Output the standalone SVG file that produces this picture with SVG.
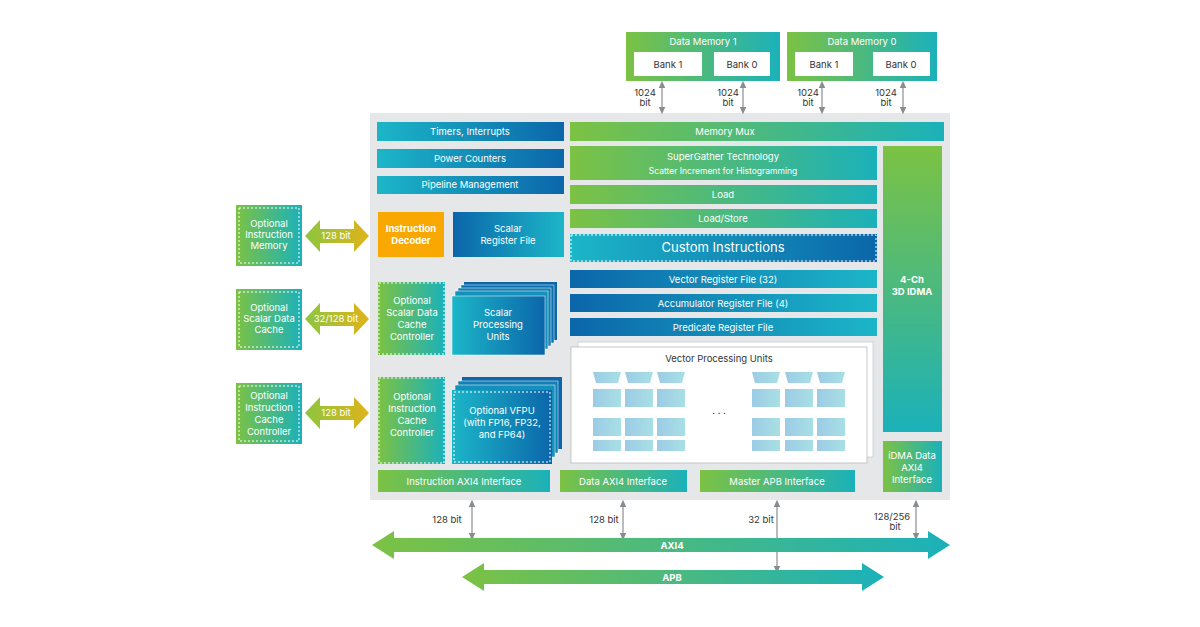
<svg xmlns="http://www.w3.org/2000/svg" width="1200" height="627" viewBox="0 0 1200 627">
<defs>
<linearGradient id="gt" x1="0" y1="0" x2="1" y2="0"><stop offset="0" stop-color="#7cc243"/><stop offset="1" stop-color="#1bb1ba"/></linearGradient>
<linearGradient id="gtv" x1="0" y1="0" x2="0" y2="1"><stop offset="0" stop-color="#7cc243"/><stop offset="1" stop-color="#1bb1ba"/></linearGradient>
<linearGradient id="bl" x1="0" y1="0" x2="1" y2="0"><stop offset="0" stop-color="#1cb6c8"/><stop offset="1" stop-color="#0b66aa"/></linearGradient>
<linearGradient id="bl2" x1="0" y1="0" x2="1" y2="0"><stop offset="0" stop-color="#0b66aa"/><stop offset="1" stop-color="#1cb6c8"/></linearGradient>
<linearGradient id="cell" x1="0" y1="0" x2="1" y2="0"><stop offset="0" stop-color="#9ccbe6"/><stop offset="1" stop-color="#a8e0e4"/></linearGradient>
<linearGradient id="yg" x1="0" y1="0" x2="1" y2="0"><stop offset="0" stop-color="#8cc63f"/><stop offset="1" stop-color="#e0b31a"/></linearGradient>
<marker id="ah" viewBox="0 0 10 10" refX="5" refY="5" markerWidth="7" markerHeight="7" orient="auto-start-reverse"><path d="M0,1 L9,5 L0,9 z" fill="#8a8d90"/></marker>
</defs>
<style>
text{font-family:Inter,"Noto Sans",sans-serif;fill:#fff;font-size:9.5px;text-anchor:middle}
.dk{fill:#333}
.b{font-weight:700}
.big{font-size:13px}
.sm{font-size:8.5px}
.dash{fill:none;stroke:#fff;stroke-width:1;stroke-dasharray:2 2}
.ln{stroke:#8a8d90;stroke-width:1.2;marker-start:url(#ah);marker-end:url(#ah)}
.cell{fill:url(#cell)}
</style>
<rect width="1200" height="627" fill="#fff"/>
<rect x="370" y="113" width="580" height="387" fill="#e6e7e8"/>

<g id="dm1"><rect x="626" y="32" width="154" height="49" fill="url(#gt)"/><text x="703" y="45">Data Memory 1</text>
<rect x="634" y="52" width="68" height="24" fill="#fff"/><text class="dk" x="668" y="68">Bank 1</text>
<rect x="714" y="52" width="56" height="24" fill="#fff"/><text class="dk" x="742" y="68">Bank 0</text></g>
<g id="dm0"><rect x="787" y="32" width="150" height="49" fill="url(#gt)"/><text x="862" y="45">Data Memory 0</text>
<rect x="795" y="52" width="58" height="24" fill="#fff"/><text class="dk" x="824" y="68">Bank 1</text>
<rect x="873" y="52" width="57" height="24" fill="#fff"/><text class="dk" x="901" y="68">Bank 0</text></g>

<g id="connectors">
<line class="ln" x1="662" y1="84" x2="662" y2="111"/><line class="ln" x1="743" y1="84" x2="743" y2="111"/>
<line class="ln" x1="822" y1="84" x2="822" y2="111"/><line class="ln" x1="903" y1="84" x2="903" y2="111"/>
<line class="ln" x1="472" y1="503" x2="472" y2="537"/><line class="ln" x1="623" y1="503" x2="623" y2="537"/>
<line class="ln" x1="777" y1="503" x2="777" y2="570"/><line class="ln" x1="916" y1="503" x2="916" y2="537"/>
<path d="M305,236 L320,220 L320,229 L354,229 L354,220 L369,236 L354,252 L354,243 L320,243 L320,252 Z" fill="url(#yg)"/>
<path d="M305,319 L320,303 L320,312 L354,312 L354,303 L369,319 L354,335 L354,326 L320,326 L320,335 Z" fill="url(#yg)"/>
<path d="M305,413 L320,397 L320,406 L354,406 L354,397 L369,413 L354,429 L354,420 L320,420 L320,429 Z" fill="url(#yg)"/>
<path d="M372,545 L394,531 L394,538 L928,538 L928,531 L950,545 L928,559 L928,552 L394,552 L394,559 Z" fill="url(#gt)"/>
<path d="M462,577 L484,563 L484,570 L862,570 L862,563 L884,577 L862,591 L862,584 L484,584 L484,591 Z" fill="url(#gt)"/>
</g>
<g>
<text class="dk" x="645" y="96">1024</text><text class="dk" x="645" y="106">bit</text>
<text class="dk" x="728" y="96">1024</text><text class="dk" x="728" y="106">bit</text>
<text class="dk" x="808" y="96">1024</text><text class="dk" x="808" y="106">bit</text>
<text class="dk" x="886" y="96">1024</text><text class="dk" x="886" y="106">bit</text>
<text class="dk" x="447" y="523">128 bit</text><text class="dk" x="604" y="523">128 bit</text>
<text class="dk" x="761" y="523">32 bit</text><text class="dk" x="892" y="520">128/256</text><text class="dk" x="895" y="530">bit</text>
</g>
<text class="b" x="672" y="549">AXI4</text><text class="b" x="672" y="581">APB</text>
<text x="336" y="239">128 bit</text><text x="336" y="322">32/128 bit</text><text x="336" y="416">128 bit</text>

<g id="ext1"><rect x="236" y="205" width="66" height="61" fill="url(#gt)"/><rect class="dash" x="239" y="208" width="60" height="55"/><text x="269" y="227">Optional</text><text x="269" y="238">Instruction</text><text x="269" y="249">Memory</text></g>
<g id="ext2"><rect x="236" y="289" width="66" height="61" fill="url(#gt)"/><rect class="dash" x="239" y="292" width="60" height="55"/><text x="269" y="311">Optional</text><text x="269" y="322">Scalar Data</text><text x="269" y="333">Cache</text></g>
<g id="ext3"><rect x="236" y="383" width="66" height="61" fill="url(#gt)"/><rect class="dash" x="239" y="386" width="60" height="55"/><text x="269" y="399">Optional</text><text x="269" y="411">Instruction</text><text x="269" y="423">Cache</text><text x="269" y="435">Controller</text></g>

<g id="timers"><rect x="377" y="122" width="187" height="19" fill="url(#bl)"/><text x="470" y="135">Timers, Interrupts</text></g>
<g id="power"><rect x="377" y="149" width="187" height="19" fill="url(#bl)"/><text x="470" y="162">Power Counters</text></g>
<g id="pipe"><rect x="377" y="176" width="187" height="18" fill="url(#bl)"/><text x="470" y="188">Pipeline Management</text></g>
<g id="decoder"><rect x="378" y="212" width="66" height="45" fill="#f8a800"/><text class="b" x="411" y="232">Instruction</text><text class="b" x="411" y="244">Decoder</text></g>
<g id="srf"><rect x="453" y="212" width="111" height="45" fill="url(#bl2)"/><text x="508" y="232">Scalar</text><text x="508" y="244">Register File</text></g>
<g id="sdcc"><rect x="378" y="282" width="67" height="73" fill="url(#gt)"/><rect class="dash" x="379" y="283" width="65" height="71"/><text x="412" y="304">Optional</text><text x="412" y="316">Scalar Data</text><text x="412" y="328">Cache</text><text x="412" y="340">Controller</text></g>
<g id="spu"><rect x="464" y="282" width="93" height="58" fill="#0b66aa"/><rect x="461" y="285" width="93" height="58" fill="#0d6fae" stroke="#fff" stroke-width=".5"/><rect x="458" y="288" width="93" height="58" fill="#1080b5" stroke="#fff" stroke-width=".5"/><rect x="455" y="291" width="93" height="58" fill="#1390bb" stroke="#fff" stroke-width=".5"/><rect x="452" y="296" width="93" height="59" fill="url(#bl)" stroke="#fff" stroke-width=".5"/><text x="498" y="316">Scalar</text><text x="498" y="328">Processing</text><text x="498" y="340">Units</text></g>
<g id="icc"><rect x="378" y="377" width="67" height="87" fill="url(#gt)"/><rect class="dash" x="379" y="378" width="65" height="85"/><text x="412" y="400">Optional</text><text x="412" y="412">Instruction</text><text x="412" y="424">Cache</text><text x="412" y="436">Controller</text></g>
<g id="vfpu"><rect x="462" y="377" width="100" height="72" fill="#0b66aa"/><rect x="458" y="381" width="100" height="72" fill="#1080b5" stroke="#fff" stroke-width=".5"/><rect x="455" y="385" width="100" height="72" fill="#1390bb" stroke="#fff" stroke-width=".5"/><rect x="452" y="390" width="100" height="74" fill="url(#bl)"/><rect class="dash" x="454" y="392" width="96" height="70"/><text x="502" y="414">Optional VFPU</text><text x="502" y="426">(with FP16, FP32,</text><text x="502" y="438">and FP64)</text></g>

<g id="mmux"><rect x="570" y="122" width="374" height="19" fill="url(#gt)"/><text x="725" y="135">Memory Mux</text></g>
<g id="sg"><rect x="570" y="146" width="307" height="34" fill="url(#gt)"/><text x="723" y="160">SuperGather Technology</text><text class="sm" x="723" y="174">Scatter Increment for Histogramming</text></g>
<g id="load"><rect x="570" y="185" width="307" height="19" fill="url(#gt)"/><text x="723" y="198">Load</text></g>
<g id="ldst"><rect x="570" y="209" width="307" height="19" fill="url(#gt)"/><text x="723" y="222">Load/Store</text></g>
<g id="ci"><rect x="570" y="234" width="307" height="28" fill="url(#bl)"/><rect class="dash" x="571" y="235" width="305" height="26"/><text class="big" x="723" y="252">Custom Instructions</text></g>
<g id="vrf"><rect x="570" y="270" width="307" height="18" fill="url(#bl2)"/><text x="723" y="283">Vector Register File (32)</text></g>
<g id="arf"><rect x="570" y="294" width="307" height="18" fill="url(#bl2)"/><text x="723" y="307">Accumulator Register File (4)</text></g>
<g id="prf"><rect x="570" y="318" width="307" height="18" fill="url(#bl2)"/><text x="723" y="331">Predicate Register File</text></g>
<g id="idma"><rect x="883" y="146" width="59" height="286" fill="url(#gtv)"/><text class="b" x="912" y="283">4-Ch</text><text class="b" x="912" y="295">3D IDMA</text></g>
<g id="idmaif"><rect x="883" y="441" width="59" height="51" fill="url(#gt)"/><text x="912" y="459">iDMA Data</text><text x="912" y="471">AXI4</text><text x="912" y="483">Interface</text></g>

<g id="vpu"><rect x="578" y="342" width="295" height="115" fill="#fff" stroke="#ccc" stroke-width=".8"/><rect x="571" y="347" width="296" height="116" fill="#fff" stroke="#bbb" stroke-width=".8"/>
<text class="dk" x="719" y="362">Vector Processing Units</text>
<g class="cell">
<path d="M593,372 h28 l-3,11 h-22 z"/><path d="M625,372 h28 l-3,11 h-22 z"/><path d="M657,372 h28 l-3,11 h-22 z"/>
<path d="M752,372 h28 l-3,11 h-22 z"/><path d="M785,372 h28 l-3,11 h-22 z"/><path d="M817,372 h28 l-3,11 h-22 z"/>
<rect x="593" y="389" width="28" height="18"/><rect x="625" y="389" width="28" height="18"/><rect x="657" y="389" width="28" height="18"/>
<rect x="752" y="389" width="28" height="18"/><rect x="785" y="389" width="28" height="18"/><rect x="817" y="389" width="28" height="18"/>
<rect x="593" y="418" width="28" height="18"/><rect x="625" y="418" width="28" height="18"/><rect x="657" y="418" width="28" height="18"/>
<rect x="752" y="418" width="28" height="18"/><rect x="785" y="418" width="28" height="18"/><rect x="817" y="418" width="28" height="18"/>
<rect x="593" y="440" width="28" height="11"/><rect x="625" y="440" width="28" height="11"/><rect x="657" y="440" width="28" height="11"/>
<rect x="752" y="440" width="28" height="11"/><rect x="785" y="440" width="28" height="11"/><rect x="817" y="440" width="28" height="11"/>
</g>
<text class="dk" x="719" y="414">. . .</text></g>

<g id="iaxi"><rect x="378" y="470" width="172" height="22" fill="url(#gt)"/><text x="464" y="485">Instruction AXI4 Interface</text></g>
<g id="daxi"><rect x="560" y="470" width="127" height="22" fill="url(#gt)"/><text x="623" y="485">Data AXI4 Interface</text></g>
<g id="mapb"><rect x="700" y="470" width="155" height="22" fill="url(#gt)"/><text x="777" y="485">Master APB Interface</text></g>
</svg>
